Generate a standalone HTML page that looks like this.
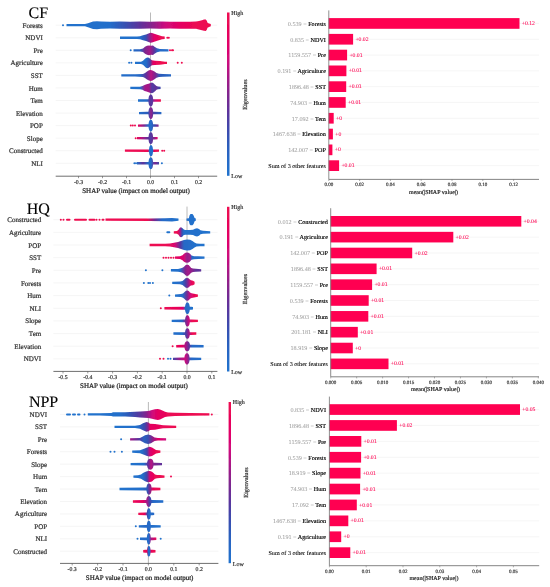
<!DOCTYPE html>
<html><head><meta charset="utf-8"><style>html,body{margin:0;padding:0;background:#fff;width:550px;height:587px;overflow:hidden}svg{display:block}</style></head>
<body><svg width="550" height="587" viewBox="0 0 550 587" font-family="'Liberation Serif', serif" text-rendering="geometricPrecision">
<defs><linearGradient id="g1" gradientUnits="userSpaceOnUse" x1="66.00" y1="0" x2="210.00" y2="0"><stop offset="0.0000" stop-color="#2373cd"/><stop offset="0.3056" stop-color="#246eca"/><stop offset="0.4097" stop-color="#3750b2"/><stop offset="0.5139" stop-color="#5f329b"/><stop offset="0.5833" stop-color="#80268e"/><stop offset="0.6875" stop-color="#cd0a7d"/><stop offset="0.7917" stop-color="#e40361"/><stop offset="0.8958" stop-color="#eb0854"/><stop offset="1.0000" stop-color="#ee0c50"/></linearGradient><linearGradient id="g2" gradientUnits="userSpaceOnUse" x1="120.00" y1="0" x2="165.00" y2="0"><stop offset="0.0000" stop-color="#2373cd"/><stop offset="0.4444" stop-color="#246eca"/><stop offset="0.5778" stop-color="#3750b2"/><stop offset="0.6667" stop-color="#931f8a"/><stop offset="0.7556" stop-color="#e10269"/><stop offset="0.8889" stop-color="#eb0854"/><stop offset="1.0000" stop-color="#ee0c50"/></linearGradient><linearGradient id="g3" gradientUnits="userSpaceOnUse" x1="133.00" y1="0" x2="168.00" y2="0"><stop offset="0.0000" stop-color="#2669c6"/><stop offset="0.2000" stop-color="#2a62c0"/><stop offset="0.3429" stop-color="#80268e"/><stop offset="0.4857" stop-color="#a51987"/><stop offset="0.6000" stop-color="#5f329b"/><stop offset="0.7143" stop-color="#2669c6"/><stop offset="1.0000" stop-color="#246eca"/></linearGradient><linearGradient id="g4" gradientUnits="userSpaceOnUse" x1="135.00" y1="0" x2="167.00" y2="0"><stop offset="0.0000" stop-color="#2373cd"/><stop offset="0.3438" stop-color="#246eca"/><stop offset="0.4688" stop-color="#4146aa"/><stop offset="0.5625" stop-color="#e40361"/><stop offset="0.7812" stop-color="#ee0c50"/><stop offset="1.0000" stop-color="#ee0c50"/></linearGradient><linearGradient id="g5" gradientUnits="userSpaceOnUse" x1="121.00" y1="0" x2="171.00" y2="0"><stop offset="0.0000" stop-color="#246eca"/><stop offset="0.3800" stop-color="#2669c6"/><stop offset="0.5000" stop-color="#5f329b"/><stop offset="0.6000" stop-color="#b91182"/><stop offset="0.6800" stop-color="#80268e"/><stop offset="0.7800" stop-color="#2d5ab9"/><stop offset="1.0000" stop-color="#2669c6"/></linearGradient><linearGradient id="g6" gradientUnits="userSpaceOnUse" x1="130.00" y1="0" x2="160.00" y2="0"><stop offset="0.0000" stop-color="#2373cd"/><stop offset="0.3333" stop-color="#246eca"/><stop offset="0.5000" stop-color="#a51987"/><stop offset="0.6333" stop-color="#a51987"/><stop offset="0.7333" stop-color="#503ca2"/><stop offset="0.8667" stop-color="#5f329b"/><stop offset="1.0000" stop-color="#4146aa"/></linearGradient><linearGradient id="g7" gradientUnits="userSpaceOnUse" x1="138.00" y1="0" x2="160.00" y2="0"><stop offset="0.0000" stop-color="#2373cd"/><stop offset="0.4091" stop-color="#2669c6"/><stop offset="0.5455" stop-color="#5f329b"/><stop offset="0.6364" stop-color="#503ca2"/><stop offset="0.7727" stop-color="#cd0a7d"/><stop offset="1.0000" stop-color="#ee0c50"/></linearGradient><linearGradient id="g8" gradientUnits="userSpaceOnUse" x1="139.00" y1="0" x2="161.00" y2="0"><stop offset="0.0000" stop-color="#246eca"/><stop offset="0.4091" stop-color="#2d5ab9"/><stop offset="0.5455" stop-color="#931f8a"/><stop offset="0.6818" stop-color="#4146aa"/><stop offset="1.0000" stop-color="#2669c6"/></linearGradient><linearGradient id="g9" gradientUnits="userSpaceOnUse" x1="138.00" y1="0" x2="158.00" y2="0"><stop offset="0.0000" stop-color="#e40361"/><stop offset="0.3000" stop-color="#80268e"/><stop offset="0.5000" stop-color="#2669c6"/><stop offset="0.6500" stop-color="#246eca"/><stop offset="0.8500" stop-color="#4146aa"/><stop offset="1.0000" stop-color="#80268e"/></linearGradient><linearGradient id="g10" gradientUnits="userSpaceOnUse" x1="137.00" y1="0" x2="157.00" y2="0"><stop offset="0.0000" stop-color="#e80558"/><stop offset="0.3000" stop-color="#a51987"/><stop offset="0.5500" stop-color="#5f329b"/><stop offset="0.7000" stop-color="#503ca2"/><stop offset="0.8500" stop-color="#80268e"/><stop offset="1.0000" stop-color="#e10269"/></linearGradient><linearGradient id="g11" gradientUnits="userSpaceOnUse" x1="124.00" y1="0" x2="159.00" y2="0"><stop offset="0.0000" stop-color="#ee0c50"/><stop offset="0.6857" stop-color="#eb0854"/><stop offset="0.7286" stop-color="#246eca"/><stop offset="0.8143" stop-color="#246eca"/><stop offset="0.8571" stop-color="#e80558"/><stop offset="1.0000" stop-color="#ee0c50"/></linearGradient><linearGradient id="g12" gradientUnits="userSpaceOnUse" x1="137.00" y1="0" x2="159.00" y2="0"><stop offset="0.0000" stop-color="#2669c6"/><stop offset="0.2727" stop-color="#5f329b"/><stop offset="0.5000" stop-color="#2669c6"/><stop offset="0.6364" stop-color="#246eca"/><stop offset="0.8182" stop-color="#80268e"/><stop offset="1.0000" stop-color="#4146aa"/></linearGradient><linearGradient id="cb13" x1="0" y1="0" x2="0" y2="1"><stop offset="0.000" stop-color="#ee0c50"/><stop offset="0.050" stop-color="#eb0854"/><stop offset="0.100" stop-color="#e80558"/><stop offset="0.150" stop-color="#e40361"/><stop offset="0.200" stop-color="#e10269"/><stop offset="0.250" stop-color="#d70673"/><stop offset="0.300" stop-color="#cd0a7d"/><stop offset="0.350" stop-color="#b91182"/><stop offset="0.400" stop-color="#a51987"/><stop offset="0.450" stop-color="#931f8a"/><stop offset="0.500" stop-color="#80268e"/><stop offset="0.550" stop-color="#6f2c94"/><stop offset="0.600" stop-color="#5f329b"/><stop offset="0.650" stop-color="#503ca2"/><stop offset="0.700" stop-color="#4146aa"/><stop offset="0.750" stop-color="#3750b2"/><stop offset="0.800" stop-color="#2d5ab9"/><stop offset="0.850" stop-color="#2a62c0"/><stop offset="0.900" stop-color="#2669c6"/><stop offset="0.950" stop-color="#246eca"/><stop offset="1.000" stop-color="#2373cd"/></linearGradient><linearGradient id="g14" gradientUnits="userSpaceOnUse" x1="105.00" y1="0" x2="178.00" y2="0"><stop offset="0.0000" stop-color="#ee0c50"/><stop offset="0.5753" stop-color="#ee0c50"/><stop offset="0.6849" stop-color="#702c94"/><stop offset="0.7808" stop-color="#2669c6"/><stop offset="1.0000" stop-color="#2373cd"/></linearGradient><linearGradient id="g15" gradientUnits="userSpaceOnUse" x1="186.00" y1="0" x2="196.00" y2="0"><stop offset="0.0000" stop-color="#2471cc"/><stop offset="1.0000" stop-color="#2471cc"/></linearGradient><linearGradient id="g16" gradientUnits="userSpaceOnUse" x1="174.00" y1="0" x2="210.00" y2="0"><stop offset="0.0000" stop-color="#ee0c50"/><stop offset="0.1111" stop-color="#eb0854"/><stop offset="0.1667" stop-color="#a51987"/><stop offset="0.2222" stop-color="#3750b2"/><stop offset="0.2778" stop-color="#246eca"/><stop offset="1.0000" stop-color="#2373cd"/></linearGradient><linearGradient id="g17" gradientUnits="userSpaceOnUse" x1="149.00" y1="0" x2="204.00" y2="0"><stop offset="0.0000" stop-color="#ee0c50"/><stop offset="0.3455" stop-color="#eb0854"/><stop offset="0.4727" stop-color="#d70673"/><stop offset="0.5636" stop-color="#5f329b"/><stop offset="0.6364" stop-color="#2669c6"/><stop offset="0.8364" stop-color="#2470cb"/><stop offset="1.0000" stop-color="#2373cd"/></linearGradient><linearGradient id="g18" gradientUnits="userSpaceOnUse" x1="163.00" y1="0" x2="204.00" y2="0"><stop offset="0.0000" stop-color="#ee0c50"/><stop offset="0.3659" stop-color="#e40361"/><stop offset="0.5122" stop-color="#d70673"/><stop offset="0.5854" stop-color="#931f8a"/><stop offset="0.6585" stop-color="#a51987"/><stop offset="0.7073" stop-color="#2669c6"/><stop offset="1.0000" stop-color="#2373cd"/></linearGradient><linearGradient id="g19" gradientUnits="userSpaceOnUse" x1="170.00" y1="0" x2="201.00" y2="0"><stop offset="0.0000" stop-color="#2373cd"/><stop offset="0.3226" stop-color="#246eca"/><stop offset="0.4839" stop-color="#80268e"/><stop offset="0.5806" stop-color="#a51987"/><stop offset="0.6774" stop-color="#931f8a"/><stop offset="0.8387" stop-color="#5f329b"/><stop offset="1.0000" stop-color="#5f329b"/></linearGradient><linearGradient id="g20" gradientUnits="userSpaceOnUse" x1="172.00" y1="0" x2="194.60" y2="0"><stop offset="0.0000" stop-color="#2373cd"/><stop offset="0.4425" stop-color="#2669c6"/><stop offset="0.6195" stop-color="#503ca2"/><stop offset="0.7522" stop-color="#a51987"/><stop offset="0.8407" stop-color="#e40361"/><stop offset="1.0000" stop-color="#ee0c50"/></linearGradient><linearGradient id="g21" gradientUnits="userSpaceOnUse" x1="175.00" y1="0" x2="198.00" y2="0"><stop offset="0.0000" stop-color="#2373cd"/><stop offset="0.3478" stop-color="#2669c6"/><stop offset="0.5217" stop-color="#702c94"/><stop offset="0.6522" stop-color="#cd0a7d"/><stop offset="0.8261" stop-color="#e80558"/><stop offset="1.0000" stop-color="#ee0c50"/></linearGradient><linearGradient id="g22" gradientUnits="userSpaceOnUse" x1="164.00" y1="0" x2="193.00" y2="0"><stop offset="0.0000" stop-color="#eb0854"/><stop offset="0.4828" stop-color="#e80558"/><stop offset="0.6552" stop-color="#d70673"/><stop offset="0.7414" stop-color="#2669c6"/><stop offset="1.0000" stop-color="#2373cd"/></linearGradient><linearGradient id="g23" gradientUnits="userSpaceOnUse" x1="171.00" y1="0" x2="198.00" y2="0"><stop offset="0.0000" stop-color="#2373cd"/><stop offset="0.4074" stop-color="#2669c6"/><stop offset="0.5556" stop-color="#80268e"/><stop offset="0.6667" stop-color="#cd0a7d"/><stop offset="0.7778" stop-color="#eb0854"/><stop offset="1.0000" stop-color="#ee0c50"/></linearGradient><linearGradient id="g24" gradientUnits="userSpaceOnUse" x1="173.00" y1="0" x2="196.00" y2="0"><stop offset="0.0000" stop-color="#246eca"/><stop offset="0.3913" stop-color="#246eca"/><stop offset="0.5652" stop-color="#503ca2"/><stop offset="0.6957" stop-color="#a51987"/><stop offset="0.8261" stop-color="#eb0854"/><stop offset="1.0000" stop-color="#ee0c50"/></linearGradient><linearGradient id="g25" gradientUnits="userSpaceOnUse" x1="176.00" y1="0" x2="204.00" y2="0"><stop offset="0.0000" stop-color="#eb0854"/><stop offset="0.2143" stop-color="#e40361"/><stop offset="0.3571" stop-color="#a51987"/><stop offset="0.4643" stop-color="#5f329b"/><stop offset="0.5714" stop-color="#2669c6"/><stop offset="1.0000" stop-color="#246eca"/></linearGradient><linearGradient id="g26" gradientUnits="userSpaceOnUse" x1="173.00" y1="0" x2="201.00" y2="0"><stop offset="0.0000" stop-color="#4146aa"/><stop offset="0.2500" stop-color="#a51987"/><stop offset="0.4286" stop-color="#cd0a7d"/><stop offset="0.5357" stop-color="#931f8a"/><stop offset="0.6429" stop-color="#2669c6"/><stop offset="1.0000" stop-color="#246eca"/></linearGradient><linearGradient id="cb27" x1="0" y1="0" x2="0" y2="1"><stop offset="0.000" stop-color="#ee0c50"/><stop offset="0.050" stop-color="#eb0854"/><stop offset="0.100" stop-color="#e80558"/><stop offset="0.150" stop-color="#e40361"/><stop offset="0.200" stop-color="#e10269"/><stop offset="0.250" stop-color="#d70673"/><stop offset="0.300" stop-color="#cd0a7d"/><stop offset="0.350" stop-color="#b91182"/><stop offset="0.400" stop-color="#a51987"/><stop offset="0.450" stop-color="#931f8a"/><stop offset="0.500" stop-color="#80268e"/><stop offset="0.550" stop-color="#6f2c94"/><stop offset="0.600" stop-color="#5f329b"/><stop offset="0.650" stop-color="#503ca2"/><stop offset="0.700" stop-color="#4146aa"/><stop offset="0.750" stop-color="#3750b2"/><stop offset="0.800" stop-color="#2d5ab9"/><stop offset="0.850" stop-color="#2a62c0"/><stop offset="0.900" stop-color="#2669c6"/><stop offset="0.950" stop-color="#246eca"/><stop offset="1.000" stop-color="#2373cd"/></linearGradient><linearGradient id="g28" gradientUnits="userSpaceOnUse" x1="88.00" y1="0" x2="210.00" y2="0"><stop offset="0.0000" stop-color="#2373cd"/><stop offset="0.2623" stop-color="#246eca"/><stop offset="0.3279" stop-color="#2d5ab9"/><stop offset="0.4098" stop-color="#503ca2"/><stop offset="0.4754" stop-color="#80268e"/><stop offset="0.5246" stop-color="#cd0a7d"/><stop offset="0.5738" stop-color="#e40361"/><stop offset="0.6721" stop-color="#eb0854"/><stop offset="1.0000" stop-color="#ee0c50"/></linearGradient><linearGradient id="g29" gradientUnits="userSpaceOnUse" x1="114.00" y1="0" x2="176.00" y2="0"><stop offset="0.0000" stop-color="#2373cd"/><stop offset="0.3871" stop-color="#246eca"/><stop offset="0.5000" stop-color="#4146aa"/><stop offset="0.5484" stop-color="#80268e"/><stop offset="0.5806" stop-color="#e40361"/><stop offset="1.0000" stop-color="#ee0c50"/></linearGradient><linearGradient id="g30" gradientUnits="userSpaceOnUse" x1="130.00" y1="0" x2="166.00" y2="0"><stop offset="0.0000" stop-color="#a51987"/><stop offset="0.2222" stop-color="#5f329b"/><stop offset="0.3889" stop-color="#2a62c0"/><stop offset="0.5000" stop-color="#3750b2"/><stop offset="0.6111" stop-color="#80268e"/><stop offset="0.7778" stop-color="#e10269"/><stop offset="1.0000" stop-color="#cd0a7d"/></linearGradient><linearGradient id="g31" gradientUnits="userSpaceOnUse" x1="132.00" y1="0" x2="160.00" y2="0"><stop offset="0.0000" stop-color="#2373cd"/><stop offset="0.3571" stop-color="#246eca"/><stop offset="0.5357" stop-color="#4146aa"/><stop offset="0.6429" stop-color="#d70673"/><stop offset="0.7857" stop-color="#e80558"/><stop offset="1.0000" stop-color="#ee0c50"/></linearGradient><linearGradient id="g32" gradientUnits="userSpaceOnUse" x1="130.00" y1="0" x2="162.00" y2="0"><stop offset="0.0000" stop-color="#2373cd"/><stop offset="0.4375" stop-color="#246eca"/><stop offset="0.5625" stop-color="#5f329b"/><stop offset="0.6562" stop-color="#b91182"/><stop offset="0.7500" stop-color="#80268e"/><stop offset="1.0000" stop-color="#5f329b"/></linearGradient><linearGradient id="g33" gradientUnits="userSpaceOnUse" x1="133.00" y1="0" x2="165.00" y2="0"><stop offset="0.0000" stop-color="#2373cd"/><stop offset="0.3125" stop-color="#246eca"/><stop offset="0.4375" stop-color="#4146aa"/><stop offset="0.5312" stop-color="#e10269"/><stop offset="0.6875" stop-color="#eb0854"/><stop offset="1.0000" stop-color="#ee0c50"/></linearGradient><linearGradient id="g34" gradientUnits="userSpaceOnUse" x1="119.00" y1="0" x2="160.00" y2="0"><stop offset="0.0000" stop-color="#2373cd"/><stop offset="0.5610" stop-color="#246eca"/><stop offset="0.6829" stop-color="#2d5ab9"/><stop offset="0.7561" stop-color="#80268e"/><stop offset="0.8293" stop-color="#e80558"/><stop offset="1.0000" stop-color="#ee0c50"/></linearGradient><linearGradient id="g35" gradientUnits="userSpaceOnUse" x1="133.00" y1="0" x2="163.00" y2="0"><stop offset="0.0000" stop-color="#eb0854"/><stop offset="0.3333" stop-color="#e40361"/><stop offset="0.4667" stop-color="#a51987"/><stop offset="0.5667" stop-color="#4146aa"/><stop offset="0.6667" stop-color="#2669c6"/><stop offset="1.0000" stop-color="#246eca"/></linearGradient><linearGradient id="g36" gradientUnits="userSpaceOnUse" x1="138.00" y1="0" x2="154.00" y2="0"><stop offset="0.0000" stop-color="#ee0c50"/><stop offset="0.4375" stop-color="#e80558"/><stop offset="0.5625" stop-color="#4146aa"/><stop offset="0.6875" stop-color="#246eca"/><stop offset="1.0000" stop-color="#2669c6"/></linearGradient><linearGradient id="g37" gradientUnits="userSpaceOnUse" x1="138.00" y1="0" x2="160.00" y2="0"><stop offset="0.0000" stop-color="#246eca"/><stop offset="0.4091" stop-color="#2669c6"/><stop offset="0.5000" stop-color="#2669c6"/><stop offset="0.6364" stop-color="#246eca"/><stop offset="1.0000" stop-color="#2373cd"/></linearGradient><linearGradient id="g38" gradientUnits="userSpaceOnUse" x1="140.00" y1="0" x2="156.00" y2="0"><stop offset="0.0000" stop-color="#246eca"/><stop offset="0.4375" stop-color="#2669c6"/><stop offset="0.5625" stop-color="#246eca"/><stop offset="0.6875" stop-color="#a51987"/><stop offset="1.0000" stop-color="#e80558"/></linearGradient><linearGradient id="g39" gradientUnits="userSpaceOnUse" x1="143.00" y1="0" x2="155.50" y2="0"><stop offset="0.0000" stop-color="#ee0c50"/><stop offset="0.3200" stop-color="#e80558"/><stop offset="0.4000" stop-color="#2669c6"/><stop offset="0.5600" stop-color="#2669c6"/><stop offset="0.6400" stop-color="#e80558"/><stop offset="1.0000" stop-color="#ee0c50"/></linearGradient><linearGradient id="cb40" x1="0" y1="0" x2="0" y2="1"><stop offset="0.000" stop-color="#ee0c50"/><stop offset="0.050" stop-color="#eb0854"/><stop offset="0.100" stop-color="#e80558"/><stop offset="0.150" stop-color="#e40361"/><stop offset="0.200" stop-color="#e10269"/><stop offset="0.250" stop-color="#d70673"/><stop offset="0.300" stop-color="#cd0a7d"/><stop offset="0.350" stop-color="#b91182"/><stop offset="0.400" stop-color="#a51987"/><stop offset="0.450" stop-color="#931f8a"/><stop offset="0.500" stop-color="#80268e"/><stop offset="0.550" stop-color="#6f2c94"/><stop offset="0.600" stop-color="#5f329b"/><stop offset="0.650" stop-color="#503ca2"/><stop offset="0.700" stop-color="#4146aa"/><stop offset="0.750" stop-color="#3750b2"/><stop offset="0.800" stop-color="#2d5ab9"/><stop offset="0.850" stop-color="#2a62c0"/><stop offset="0.900" stop-color="#2669c6"/><stop offset="0.950" stop-color="#246eca"/><stop offset="1.000" stop-color="#2373cd"/></linearGradient></defs>
<filter id="bl" x="0" y="0" width="550" height="587" filterUnits="userSpaceOnUse"><feGaussianBlur stdDeviation="0.3"/></filter>
<rect width="550" height="587" fill="#fff"/>
<g filter="url(#bl)">
<text x="28.60" y="18.00" font-size="16" fill="#000" stroke="#000" stroke-width="0.120" text-anchor="start" >CF</text>
<line x1="55.70" y1="25.20" x2="217.20" y2="25.20" stroke="#f0f0f0" stroke-width="0.7" />
<line x1="55.70" y1="37.75" x2="217.20" y2="37.75" stroke="#f0f0f0" stroke-width="0.7" />
<line x1="55.70" y1="50.30" x2="217.20" y2="50.30" stroke="#f0f0f0" stroke-width="0.7" />
<line x1="55.70" y1="62.85" x2="217.20" y2="62.85" stroke="#f0f0f0" stroke-width="0.7" />
<line x1="55.70" y1="75.40" x2="217.20" y2="75.40" stroke="#f0f0f0" stroke-width="0.7" />
<line x1="55.70" y1="87.95" x2="217.20" y2="87.95" stroke="#f0f0f0" stroke-width="0.7" />
<line x1="55.70" y1="100.50" x2="217.20" y2="100.50" stroke="#f0f0f0" stroke-width="0.7" />
<line x1="55.70" y1="113.05" x2="217.20" y2="113.05" stroke="#f0f0f0" stroke-width="0.7" />
<line x1="55.70" y1="125.60" x2="217.20" y2="125.60" stroke="#f0f0f0" stroke-width="0.7" />
<line x1="55.70" y1="138.15" x2="217.20" y2="138.15" stroke="#f0f0f0" stroke-width="0.7" />
<line x1="55.70" y1="150.70" x2="217.20" y2="150.70" stroke="#f0f0f0" stroke-width="0.7" />
<line x1="55.70" y1="163.25" x2="217.20" y2="163.25" stroke="#f0f0f0" stroke-width="0.7" />
<line x1="150.50" y1="12.50" x2="150.50" y2="176.20" stroke="#a8a8a8" stroke-width="0.8" />
<text x="42.80" y="27.75" font-size="7" fill="#333" stroke="#333" stroke-width="0.220" text-anchor="end" >Forests</text>
<text x="42.80" y="40.30" font-size="7" fill="#333" stroke="#333" stroke-width="0.220" text-anchor="end" >NDVI</text>
<text x="42.80" y="52.85" font-size="7" fill="#333" stroke="#333" stroke-width="0.220" text-anchor="end" >Pre</text>
<text x="42.80" y="65.40" font-size="7" fill="#333" stroke="#333" stroke-width="0.220" text-anchor="end" >Agriculture</text>
<text x="42.80" y="77.95" font-size="7" fill="#333" stroke="#333" stroke-width="0.220" text-anchor="end" >SST</text>
<text x="42.80" y="90.50" font-size="7" fill="#333" stroke="#333" stroke-width="0.220" text-anchor="end" >Hum</text>
<text x="42.80" y="103.05" font-size="7" fill="#333" stroke="#333" stroke-width="0.220" text-anchor="end" >Tem</text>
<text x="42.80" y="115.60" font-size="7" fill="#333" stroke="#333" stroke-width="0.220" text-anchor="end" >Elevation</text>
<text x="42.80" y="128.15" font-size="7" fill="#333" stroke="#333" stroke-width="0.220" text-anchor="end" >POP</text>
<text x="42.80" y="140.70" font-size="7" fill="#333" stroke="#333" stroke-width="0.220" text-anchor="end" >Slope</text>
<text x="42.80" y="153.25" font-size="7" fill="#333" stroke="#333" stroke-width="0.220" text-anchor="end" >Constructed</text>
<text x="42.80" y="165.80" font-size="7" fill="#333" stroke="#333" stroke-width="0.220" text-anchor="end" >NLI</text>
<circle cx="63.00" cy="25.20" r="1.0" fill="#2373cd"/>
<polygon points="66.50,24.05 85.00,24.05 88.00,23.20 93.00,21.40 97.00,21.20 101.00,21.60 110.00,21.80 120.00,21.60 130.00,21.70 140.00,21.60 150.00,21.80 160.00,21.60 170.00,21.80 180.00,21.70 190.00,21.70 196.00,21.60 199.00,21.00 202.00,20.20 204.00,19.60 205.80,19.40 206.80,20.70 207.50,22.70 209.00,23.40 210.80,24.05 210.80,26.35 209.00,27.00 207.50,27.70 206.80,29.70 205.80,31.00 204.00,30.80 202.00,30.20 199.00,29.40 196.00,28.80 190.00,28.70 180.00,28.70 170.00,28.60 160.00,28.80 150.00,28.60 140.00,28.80 130.00,28.70 120.00,28.80 110.00,28.60 101.00,28.80 97.00,29.20 93.00,29.00 88.00,27.20 85.00,26.35 66.50,26.35" fill="url(#g1)"/>
<polygon points="120.00,36.60 137.00,36.60 140.00,36.25 143.00,35.25 146.00,34.45 148.50,33.55 150.50,32.75 152.00,32.95 155.00,33.95 158.00,34.95 162.00,36.25 164.70,36.60 164.70,38.90 162.00,39.25 158.00,40.55 155.00,41.55 152.00,42.55 150.50,42.75 148.50,41.95 146.00,41.05 143.00,40.25 140.00,39.25 137.00,38.90 120.00,38.90" fill="url(#g2)"/>
<circle cx="167.30" cy="37.75" r="1.0" fill="#ee0c50"/>
<circle cx="168.80" cy="37.75" r="1.0" fill="#ee0c50"/>
<circle cx="130.70" cy="50.30" r="1.0" fill="#2373cd"/>
<polygon points="133.50,49.15 140.00,49.15 143.00,48.50 145.00,46.80 147.00,45.80 149.00,45.40 151.00,45.80 153.00,45.50 154.50,46.80 157.00,48.30 160.00,49.10 168.50,49.15 168.50,51.45 160.00,51.50 157.00,52.30 154.50,53.80 153.00,55.10 151.00,54.80 149.00,55.20 147.00,54.80 145.00,53.80 143.00,52.10 140.00,51.45 133.50,51.45" fill="url(#g3)"/>
<circle cx="170.00" cy="50.30" r="1.0" fill="#ee0c50"/>
<circle cx="172.00" cy="50.30" r="1.0" fill="#ee0c50"/>
<circle cx="173.00" cy="50.30" r="1.0" fill="#ee0c50"/>
<circle cx="129.10" cy="62.85" r="1.0" fill="#2373cd"/>
<circle cx="131.40" cy="62.85" r="1.0" fill="#2373cd"/>
<polygon points="135.00,61.70 141.00,61.65 143.00,60.85 144.50,59.35 146.00,58.05 147.50,57.45 149.00,57.85 150.50,59.35 152.00,60.35 155.00,60.75 160.00,61.05 165.00,61.65 167.00,61.70 167.00,64.00 165.00,64.05 160.00,64.65 155.00,64.95 152.00,65.35 150.50,66.35 149.00,67.85 147.50,68.25 146.00,67.65 144.50,66.35 143.00,64.85 141.00,64.05 135.00,64.00" fill="url(#g4)"/>
<circle cx="177.70" cy="62.85" r="1.0" fill="#ee0c50"/>
<circle cx="181.80" cy="62.85" r="1.0" fill="#ee0c50"/>
<polygon points="121.30,74.25 135.00,74.20 143.00,73.90 145.00,72.90 147.00,71.40 149.00,70.30 150.70,69.90 152.50,70.40 154.50,71.60 156.50,73.00 159.00,73.70 163.00,74.10 171.00,74.25 171.00,76.55 163.00,76.70 159.00,77.10 156.50,77.80 154.50,79.20 152.50,80.40 150.70,80.90 149.00,80.50 147.00,79.40 145.00,77.90 143.00,76.90 135.00,76.60 121.30,76.55" fill="url(#g5)"/>
<polygon points="130.30,86.80 140.00,86.65 142.50,86.05 144.50,84.95 146.50,84.35 148.50,83.75 150.50,82.95 152.00,82.55 153.50,83.35 155.00,84.75 156.50,86.05 158.00,86.55 160.60,86.80 160.60,89.10 158.00,89.35 156.50,89.85 155.00,91.15 153.50,92.55 152.00,93.35 150.50,92.95 148.50,92.15 146.50,91.55 144.50,90.95 142.50,89.85 140.00,89.25 130.30,89.10" fill="url(#g6)"/>
<polygon points="138.00,99.35 146.90,99.25 148.40,99.25 148.80,96.77 149.20,95.76 149.60,95.15 150.00,94.78 150.40,94.57 150.80,94.50 151.20,94.57 151.60,94.78 152.00,95.15 152.40,95.76 152.80,96.77 153.20,99.25 154.70,99.25 160.90,99.35 160.90,101.65 154.70,101.75 153.20,101.75 152.80,104.23 152.40,105.24 152.00,105.85 151.60,106.22 151.20,106.43 150.80,106.50 150.40,106.43 150.00,106.22 149.60,105.85 149.20,105.24 148.80,104.23 148.40,101.75 146.90,101.75 138.00,101.65" fill="url(#g7)"/>
<polygon points="139.00,111.90 146.90,111.80 148.40,111.80 148.80,109.38 149.20,108.39 149.60,107.79 150.00,107.42 150.40,107.22 150.80,107.15 151.20,107.22 151.60,107.42 152.00,107.79 152.40,108.39 152.80,109.38 153.20,111.80 154.70,111.80 161.40,111.90 161.40,114.20 154.70,114.30 153.20,114.30 152.80,116.72 152.40,117.71 152.00,118.31 151.60,118.68 151.20,118.88 150.80,118.95 150.40,118.88 150.00,118.68 149.60,118.31 149.20,117.71 148.80,116.72 148.40,114.30 146.90,114.30 139.00,114.20" fill="url(#g8)"/>
<circle cx="130.80" cy="125.60" r="1.0" fill="#ee0c50"/>
<circle cx="132.80" cy="125.60" r="1.0" fill="#ee0c50"/>
<circle cx="135.00" cy="125.60" r="1.0" fill="#ee0c50"/>
<polygon points="138.00,124.45 147.00,124.35 148.50,124.35 148.88,121.93 149.27,120.94 149.65,120.34 150.03,119.97 150.42,119.77 150.80,119.70 151.18,119.77 151.57,119.97 151.95,120.34 152.33,120.94 152.72,121.93 153.10,124.35 154.60,124.35 158.60,124.45 158.60,126.75 154.60,126.85 153.10,126.85 152.72,129.27 152.33,130.26 151.95,130.86 151.57,131.23 151.18,131.43 150.80,131.50 150.42,131.43 150.03,131.23 149.65,130.86 149.27,130.26 148.88,129.27 148.50,126.85 147.00,126.85 138.00,126.75" fill="url(#g9)"/>
<circle cx="135.70" cy="138.15" r="1.0" fill="#ee0c50"/>
<polygon points="137.00,137.00 147.00,136.90 148.50,136.90 148.88,134.42 149.27,133.41 149.65,132.80 150.03,132.43 150.42,132.22 150.80,132.15 151.18,132.22 151.57,132.43 151.95,132.80 152.33,133.41 152.72,134.42 153.10,136.90 154.60,136.90 157.60,137.00 157.60,139.30 154.60,139.40 153.10,139.40 152.72,141.88 152.33,142.89 151.95,143.50 151.57,143.87 151.18,144.08 150.80,144.15 150.42,144.08 150.03,143.87 149.65,143.50 149.27,142.89 148.88,141.88 148.50,139.40 147.00,139.40 137.00,139.30" fill="url(#g10)"/>
<polygon points="124.90,149.55 147.50,149.45 149.00,149.45 149.33,147.21 149.67,146.27 150.00,145.71 150.33,145.36 150.67,145.16 151.00,145.10 151.33,145.16 151.67,145.36 152.00,145.71 152.33,146.27 152.67,147.21 153.00,149.45 154.50,149.45 159.00,149.55 159.00,151.85 154.50,151.95 153.00,151.95 152.67,154.19 152.33,155.13 152.00,155.69 151.67,156.04 151.33,156.24 151.00,156.30 150.67,156.24 150.33,156.04 150.00,155.69 149.67,155.13 149.33,154.19 149.00,151.95 147.50,151.95 124.90,151.85" fill="url(#g11)"/>
<circle cx="162.20" cy="150.70" r="1.0" fill="#ee0c50"/>
<circle cx="164.20" cy="150.70" r="1.0" fill="#ee0c50"/>
<circle cx="134.40" cy="163.25" r="1.0" fill="#2373cd"/>
<circle cx="136.00" cy="163.25" r="1.0" fill="#2373cd"/>
<polygon points="137.00,162.10 147.00,162.00 148.50,162.00 148.88,159.58 149.27,158.59 149.65,157.99 150.03,157.62 150.42,157.42 150.80,157.35 151.18,157.42 151.57,157.62 151.95,157.99 152.33,158.59 152.72,159.58 153.10,162.00 154.60,162.00 159.00,162.10 159.00,164.40 154.60,164.50 153.10,164.50 152.72,166.92 152.33,167.91 151.95,168.51 151.57,168.88 151.18,169.08 150.80,169.15 150.42,169.08 150.03,168.88 149.65,168.51 149.27,167.91 148.88,166.92 148.50,164.50 147.00,164.50 137.00,164.40" fill="url(#g12)"/>
<circle cx="161.90" cy="163.25" r="1.0" fill="#2373cd"/>
<line x1="55.70" y1="176.20" x2="217.20" y2="176.20" stroke="#555" stroke-width="0.85" />
<line x1="78.50" y1="176.20" x2="78.50" y2="178.20" stroke="#555" stroke-width="0.6" />
<text x="78.50" y="184.10" font-size="5.8" fill="#333" stroke="#333" stroke-width="0.182" text-anchor="middle" >-0.3</text>
<line x1="102.50" y1="176.20" x2="102.50" y2="178.20" stroke="#555" stroke-width="0.6" />
<text x="102.50" y="184.10" font-size="5.8" fill="#333" stroke="#333" stroke-width="0.182" text-anchor="middle" >-0.2</text>
<line x1="126.50" y1="176.20" x2="126.50" y2="178.20" stroke="#555" stroke-width="0.6" />
<text x="126.50" y="184.10" font-size="5.8" fill="#333" stroke="#333" stroke-width="0.182" text-anchor="middle" >-0.1</text>
<line x1="150.50" y1="176.20" x2="150.50" y2="178.20" stroke="#555" stroke-width="0.6" />
<text x="150.50" y="184.10" font-size="5.8" fill="#333" stroke="#333" stroke-width="0.182" text-anchor="middle" >0.0</text>
<line x1="174.50" y1="176.20" x2="174.50" y2="178.20" stroke="#555" stroke-width="0.6" />
<text x="174.50" y="184.10" font-size="5.8" fill="#333" stroke="#333" stroke-width="0.182" text-anchor="middle" >0.1</text>
<line x1="198.50" y1="176.20" x2="198.50" y2="178.20" stroke="#555" stroke-width="0.6" />
<text x="198.50" y="184.10" font-size="5.8" fill="#333" stroke="#333" stroke-width="0.182" text-anchor="middle" >0.2</text>
<text x="82.20" y="192.60" font-size="7" fill="#222" stroke="#222" stroke-width="0.220" text-anchor="start" >SHAP value (impact on model output)</text>
<rect x="227.00" y="12.50" width="2.50" height="163.30" fill="url(#cb13)" />
<text x="231.30" y="15.00" font-size="6" fill="#333" stroke="#333" stroke-width="0.189" text-anchor="start" >High</text>
<text x="231.30" y="178.40" font-size="6" fill="#333" stroke="#333" stroke-width="0.189" text-anchor="start" >Low</text>
<text transform="translate(246.60,94.50) rotate(-90)" x="0" y="0" font-size="6.2" fill="#333" stroke="#333" stroke-width="0.198" text-anchor="middle">Eigenvalues</text>
<text x="26.70" y="213.80" font-size="16" fill="#000" stroke="#000" stroke-width="0.120" text-anchor="start" >HQ</text>
<line x1="53.40" y1="219.70" x2="217.40" y2="219.70" stroke="#f0f0f0" stroke-width="0.7" />
<line x1="53.40" y1="232.35" x2="217.40" y2="232.35" stroke="#f0f0f0" stroke-width="0.7" />
<line x1="53.40" y1="245.00" x2="217.40" y2="245.00" stroke="#f0f0f0" stroke-width="0.7" />
<line x1="53.40" y1="257.65" x2="217.40" y2="257.65" stroke="#f0f0f0" stroke-width="0.7" />
<line x1="53.40" y1="270.30" x2="217.40" y2="270.30" stroke="#f0f0f0" stroke-width="0.7" />
<line x1="53.40" y1="282.95" x2="217.40" y2="282.95" stroke="#f0f0f0" stroke-width="0.7" />
<line x1="53.40" y1="295.60" x2="217.40" y2="295.60" stroke="#f0f0f0" stroke-width="0.7" />
<line x1="53.40" y1="308.25" x2="217.40" y2="308.25" stroke="#f0f0f0" stroke-width="0.7" />
<line x1="53.40" y1="320.90" x2="217.40" y2="320.90" stroke="#f0f0f0" stroke-width="0.7" />
<line x1="53.40" y1="333.55" x2="217.40" y2="333.55" stroke="#f0f0f0" stroke-width="0.7" />
<line x1="53.40" y1="346.20" x2="217.40" y2="346.20" stroke="#f0f0f0" stroke-width="0.7" />
<line x1="53.40" y1="358.85" x2="217.40" y2="358.85" stroke="#f0f0f0" stroke-width="0.7" />
<line x1="187.00" y1="206.60" x2="187.00" y2="371.40" stroke="#a8a8a8" stroke-width="0.8" />
<text x="41.20" y="222.25" font-size="7" fill="#333" stroke="#333" stroke-width="0.220" text-anchor="end" >Constructed</text>
<text x="41.20" y="234.90" font-size="7" fill="#333" stroke="#333" stroke-width="0.220" text-anchor="end" >Agriculture</text>
<text x="41.20" y="247.55" font-size="7" fill="#333" stroke="#333" stroke-width="0.220" text-anchor="end" >POP</text>
<text x="41.20" y="260.20" font-size="7" fill="#333" stroke="#333" stroke-width="0.220" text-anchor="end" >SST</text>
<text x="41.20" y="272.85" font-size="7" fill="#333" stroke="#333" stroke-width="0.220" text-anchor="end" >Pre</text>
<text x="41.20" y="285.50" font-size="7" fill="#333" stroke="#333" stroke-width="0.220" text-anchor="end" >Forests</text>
<text x="41.20" y="298.15" font-size="7" fill="#333" stroke="#333" stroke-width="0.220" text-anchor="end" >Hum</text>
<text x="41.20" y="310.80" font-size="7" fill="#333" stroke="#333" stroke-width="0.220" text-anchor="end" >NLI</text>
<text x="41.20" y="323.45" font-size="7" fill="#333" stroke="#333" stroke-width="0.220" text-anchor="end" >Slope</text>
<text x="41.20" y="336.10" font-size="7" fill="#333" stroke="#333" stroke-width="0.220" text-anchor="end" >Tem</text>
<text x="41.20" y="348.75" font-size="7" fill="#333" stroke="#333" stroke-width="0.220" text-anchor="end" >Elevation</text>
<text x="41.20" y="361.40" font-size="7" fill="#333" stroke="#333" stroke-width="0.220" text-anchor="end" >NDVI</text>
<circle cx="60.80" cy="219.70" r="1.0" fill="#ee0c50"/>
<circle cx="63.50" cy="219.70" r="1.0" fill="#ee0c50"/>
<circle cx="96.50" cy="219.70" r="1.0" fill="#ee0c50"/>
<rect x="66.00" y="218.70" width="4.50" height="2.00" rx="1.0" fill="#ee0c50"/>
<rect x="74.00" y="218.70" width="13.00" height="2.00" rx="1.0" fill="#ee0c50"/>
<rect x="88.50" y="218.70" width="7.00" height="2.00" rx="1.0" fill="#ee0c50"/>
<rect x="98.50" y="218.70" width="2.00" height="2.00" rx="1.0" fill="#ee0c50"/>
<rect x="101.50" y="218.70" width="3.00" height="2.00" rx="1.0" fill="#ee0c50"/>
<polygon points="105.50,218.55 150.00,218.50 165.00,218.20 172.00,218.00 178.50,218.55 178.50,220.85 172.00,221.40 165.00,221.20 150.00,220.90 105.50,220.85" fill="url(#g14)"/>
<polygon points="186.50,218.55 188.80,218.30 189.60,215.20 190.50,214.10 192.50,214.10 193.60,215.50 194.60,218.10 195.80,218.55 195.80,220.85 194.60,221.30 193.60,223.90 192.50,225.30 190.50,225.30 189.60,224.20 188.80,221.10 186.50,220.85" fill="url(#g15)"/>
<rect x="166.30" y="231.35" width="4.00" height="2.00" rx="1.0" fill="#2373cd"/>
<polygon points="173.80,231.15 177.00,231.05 178.50,229.85 179.80,227.85 181.00,227.35 182.30,228.05 183.50,229.35 185.00,229.95 190.00,230.05 193.00,229.75 195.00,228.75 197.00,228.15 199.00,228.95 200.50,230.35 203.00,230.85 210.20,231.20 210.20,233.50 203.00,233.85 200.50,234.35 199.00,235.75 197.00,236.55 195.00,235.95 193.00,234.95 190.00,234.65 185.00,234.75 183.50,235.35 182.30,236.65 181.00,237.35 179.80,236.85 178.50,234.85 177.00,233.65 173.80,233.55" fill="url(#g16)"/>
<polygon points="149.60,243.80 165.00,243.70 170.00,243.40 174.00,242.80 178.00,242.00 181.00,241.00 184.00,240.00 187.00,239.40 190.00,239.80 192.50,241.00 194.50,242.50 196.50,243.40 200.00,243.70 204.50,243.85 204.50,246.15 200.00,246.30 196.50,246.60 194.50,247.50 192.50,249.00 190.00,250.20 187.00,250.60 184.00,250.00 181.00,249.00 178.00,248.00 174.00,247.20 170.00,246.60 165.00,246.30 149.60,246.20" fill="url(#g17)"/>
<circle cx="163.50" cy="257.65" r="1.0" fill="#ee0c50"/>
<circle cx="166.00" cy="257.65" r="1.0" fill="#ee0c50"/>
<circle cx="168.50" cy="257.65" r="1.0" fill="#ee0c50"/>
<circle cx="171.00" cy="257.65" r="1.0" fill="#ee0c50"/>
<circle cx="173.50" cy="257.65" r="1.0" fill="#ee0c50"/>
<polygon points="175.00,256.45 180.00,256.25 182.50,255.15 184.00,253.65 185.50,252.75 187.00,252.45 188.50,252.75 190.00,253.85 191.50,255.45 194.00,256.15 198.00,256.35 204.50,256.50 204.50,258.80 198.00,258.95 194.00,259.15 191.50,259.85 190.00,261.45 188.50,262.55 187.00,262.85 185.50,262.55 184.00,261.65 182.50,260.15 180.00,259.05 175.00,258.85" fill="url(#g18)"/>
<circle cx="145.90" cy="270.30" r="1.0" fill="#2373cd"/>
<circle cx="162.40" cy="270.30" r="1.0" fill="#2373cd"/>
<polygon points="170.90,269.10 178.00,268.90 181.00,268.30 183.00,267.50 184.50,266.30 185.80,265.10 187.20,264.70 188.60,265.10 190.00,266.50 191.20,267.90 193.00,268.50 196.00,268.80 201.20,269.15 201.20,271.45 196.00,271.80 193.00,272.10 191.20,272.70 190.00,274.10 188.60,275.50 187.20,275.90 185.80,275.50 184.50,274.30 183.00,273.10 181.00,272.30 178.00,271.70 170.90,271.50" fill="url(#g19)"/>
<circle cx="143.90" cy="282.95" r="1.0" fill="#2373cd"/>
<circle cx="148.30" cy="282.95" r="1.0" fill="#2373cd"/>
<circle cx="150.00" cy="282.95" r="1.0" fill="#2373cd"/>
<circle cx="152.90" cy="282.95" r="1.0" fill="#2373cd"/>
<polygon points="172.20,281.80 180.00,281.55 182.50,280.95 184.00,279.75 185.50,278.35 187.00,277.95 188.50,278.35 189.80,279.55 191.00,280.35 193.00,280.75 194.60,281.65 194.60,284.25 193.00,285.15 191.00,285.55 189.80,286.35 188.50,287.55 187.00,287.95 185.50,287.55 184.00,286.15 182.50,284.95 180.00,284.35 172.20,284.10" fill="url(#g20)"/>
<circle cx="169.30" cy="295.60" r="1.0" fill="#2373cd"/>
<polygon points="175.00,294.45 181.00,294.10 183.00,293.40 184.50,292.10 186.00,290.80 187.40,290.40 188.80,291.00 190.00,292.40 191.50,293.30 194.00,293.70 197.90,294.45 197.90,296.75 194.00,297.50 191.50,297.90 190.00,298.80 188.80,300.20 187.40,300.80 186.00,300.40 184.50,299.10 183.00,297.80 181.00,297.10 175.00,296.75" fill="url(#g21)"/>
<circle cx="160.80" cy="308.25" r="1.0" fill="#ee0c50"/>
<polygon points="164.40,307.06 183.50,306.85 185.00,306.85 185.40,304.64 185.80,303.67 186.20,303.08 186.60,302.72 187.00,302.51 187.40,302.45 187.80,302.51 188.20,302.72 188.60,303.08 189.00,303.67 189.40,304.64 189.80,306.85 191.30,306.85 193.00,307.06 193.00,309.44 191.30,309.65 189.80,309.65 189.40,311.86 189.00,312.83 188.60,313.42 188.20,313.78 187.80,313.99 187.40,314.05 187.00,313.99 186.60,313.78 186.20,313.42 185.80,312.83 185.40,311.86 185.00,309.65 183.50,309.65 164.40,309.44" fill="url(#g22)"/>
<polygon points="171.70,319.71 183.50,319.50 185.00,319.50 185.40,317.41 185.80,316.47 186.20,315.91 186.60,315.56 187.00,315.36 187.40,315.30 187.80,315.36 188.20,315.56 188.60,315.91 189.00,316.47 189.40,317.41 189.80,319.50 191.30,319.50 197.90,319.71 197.90,322.09 191.30,322.30 189.80,322.30 189.40,324.39 189.00,325.33 188.60,325.89 188.20,326.24 187.80,326.44 187.40,326.50 187.00,326.44 186.60,326.24 186.20,325.89 185.80,325.33 185.40,324.39 185.00,322.30 183.50,322.30 171.70,322.09" fill="url(#g23)"/>
<polygon points="173.40,332.36 183.50,332.15 185.00,332.15 185.40,330.25 185.80,329.36 186.20,328.83 186.60,328.49 187.00,328.31 187.40,328.25 187.80,328.31 188.20,328.49 188.60,328.83 189.00,329.36 189.40,330.25 189.80,332.15 191.30,332.15 196.30,332.36 196.30,334.74 191.30,334.95 189.80,334.95 189.40,336.85 189.00,337.74 188.60,338.27 188.20,338.61 187.80,338.79 187.40,338.85 187.00,338.79 186.60,338.61 186.20,338.27 185.80,337.74 185.40,336.85 185.00,334.95 183.50,334.95 173.40,334.74" fill="url(#g24)"/>
<circle cx="172.60" cy="346.20" r="1.0" fill="#ee0c50"/>
<polygon points="176.20,345.01 182.90,344.80 184.40,344.80 184.87,343.09 185.33,342.25 185.80,341.74 186.27,341.43 186.73,341.26 187.20,341.20 187.67,341.26 188.13,341.43 188.60,341.74 189.07,342.25 189.53,343.09 190.00,344.80 191.50,344.80 203.60,345.01 203.60,347.39 191.50,347.60 190.00,347.60 189.53,349.31 189.07,350.15 188.60,350.66 188.13,350.97 187.67,351.14 187.20,351.20 186.73,351.14 186.27,350.97 185.80,350.66 185.33,350.15 184.87,349.31 184.40,347.60 182.90,347.60 176.20,347.39" fill="url(#g25)"/>
<circle cx="160.00" cy="358.85" r="1.0" fill="#ee0c50"/>
<circle cx="163.50" cy="358.85" r="1.0" fill="#ee0c50"/>
<circle cx="168.00" cy="358.85" r="1.0" fill="#2373cd"/>
<circle cx="170.50" cy="358.85" r="1.0" fill="#2373cd"/>
<polygon points="173.00,357.66 182.90,357.45 184.40,357.45 184.83,355.36 185.27,354.42 185.70,353.86 186.13,353.51 186.57,353.31 187.00,353.25 187.43,353.31 187.87,353.51 188.30,353.86 188.73,354.42 189.17,355.36 189.60,357.45 191.10,357.45 201.20,357.66 201.20,360.04 191.10,360.25 189.60,360.25 189.17,362.34 188.73,363.28 188.30,363.84 187.87,364.19 187.43,364.39 187.00,364.45 186.57,364.39 186.13,364.19 185.70,363.84 185.27,363.28 184.83,362.34 184.40,360.25 182.90,360.25 173.00,360.04" fill="url(#g26)"/>
<line x1="53.40" y1="371.40" x2="217.40" y2="371.40" stroke="#555" stroke-width="0.85" />
<line x1="63.00" y1="371.40" x2="63.00" y2="373.40" stroke="#555" stroke-width="0.6" />
<text x="63.00" y="379.30" font-size="5.8" fill="#333" stroke="#333" stroke-width="0.182" text-anchor="middle" >-0.5</text>
<line x1="87.80" y1="371.40" x2="87.80" y2="373.40" stroke="#555" stroke-width="0.6" />
<text x="87.80" y="379.30" font-size="5.8" fill="#333" stroke="#333" stroke-width="0.182" text-anchor="middle" >-0.4</text>
<line x1="112.60" y1="371.40" x2="112.60" y2="373.40" stroke="#555" stroke-width="0.6" />
<text x="112.60" y="379.30" font-size="5.8" fill="#333" stroke="#333" stroke-width="0.182" text-anchor="middle" >-0.3</text>
<line x1="137.40" y1="371.40" x2="137.40" y2="373.40" stroke="#555" stroke-width="0.6" />
<text x="137.40" y="379.30" font-size="5.8" fill="#333" stroke="#333" stroke-width="0.182" text-anchor="middle" >-0.2</text>
<line x1="162.20" y1="371.40" x2="162.20" y2="373.40" stroke="#555" stroke-width="0.6" />
<text x="162.20" y="379.30" font-size="5.8" fill="#333" stroke="#333" stroke-width="0.182" text-anchor="middle" >-0.1</text>
<line x1="187.00" y1="371.40" x2="187.00" y2="373.40" stroke="#555" stroke-width="0.6" />
<text x="187.00" y="379.30" font-size="5.8" fill="#333" stroke="#333" stroke-width="0.182" text-anchor="middle" >0.0</text>
<line x1="211.80" y1="371.40" x2="211.80" y2="373.40" stroke="#555" stroke-width="0.6" />
<text x="211.80" y="379.30" font-size="5.8" fill="#333" stroke="#333" stroke-width="0.182" text-anchor="middle" >0.1</text>
<text x="80.10" y="387.80" font-size="7" fill="#222" stroke="#222" stroke-width="0.220" text-anchor="start" >SHAP value (impact on model output)</text>
<rect x="227.00" y="206.80" width="2.40" height="164.70" fill="url(#cb27)" />
<text x="231.20" y="209.20" font-size="6" fill="#333" stroke="#333" stroke-width="0.189" text-anchor="start" >High</text>
<text x="231.20" y="373.60" font-size="6" fill="#333" stroke="#333" stroke-width="0.189" text-anchor="start" >Low</text>
<text transform="translate(246.80,289.00) rotate(-90)" x="0" y="0" font-size="6.2" fill="#333" stroke="#333" stroke-width="0.198" text-anchor="middle">Eigenvalues</text>
<text x="28.90" y="406.80" font-size="16" fill="#000" stroke="#000" stroke-width="0.120" text-anchor="start" >NPP</text>
<line x1="60.00" y1="414.40" x2="218.40" y2="414.40" stroke="#f0f0f0" stroke-width="0.7" />
<line x1="60.00" y1="426.84" x2="218.40" y2="426.84" stroke="#f0f0f0" stroke-width="0.7" />
<line x1="60.00" y1="439.28" x2="218.40" y2="439.28" stroke="#f0f0f0" stroke-width="0.7" />
<line x1="60.00" y1="451.72" x2="218.40" y2="451.72" stroke="#f0f0f0" stroke-width="0.7" />
<line x1="60.00" y1="464.16" x2="218.40" y2="464.16" stroke="#f0f0f0" stroke-width="0.7" />
<line x1="60.00" y1="476.60" x2="218.40" y2="476.60" stroke="#f0f0f0" stroke-width="0.7" />
<line x1="60.00" y1="489.04" x2="218.40" y2="489.04" stroke="#f0f0f0" stroke-width="0.7" />
<line x1="60.00" y1="501.48" x2="218.40" y2="501.48" stroke="#f0f0f0" stroke-width="0.7" />
<line x1="60.00" y1="513.92" x2="218.40" y2="513.92" stroke="#f0f0f0" stroke-width="0.7" />
<line x1="60.00" y1="526.36" x2="218.40" y2="526.36" stroke="#f0f0f0" stroke-width="0.7" />
<line x1="60.00" y1="538.80" x2="218.40" y2="538.80" stroke="#f0f0f0" stroke-width="0.7" />
<line x1="60.00" y1="551.24" x2="218.40" y2="551.24" stroke="#f0f0f0" stroke-width="0.7" />
<line x1="148.40" y1="402.00" x2="148.40" y2="563.40" stroke="#a8a8a8" stroke-width="0.8" />
<text x="47.10" y="416.95" font-size="7" fill="#333" stroke="#333" stroke-width="0.220" text-anchor="end" >NDVI</text>
<text x="47.10" y="429.39" font-size="7" fill="#333" stroke="#333" stroke-width="0.220" text-anchor="end" >SST</text>
<text x="47.10" y="441.83" font-size="7" fill="#333" stroke="#333" stroke-width="0.220" text-anchor="end" >Pre</text>
<text x="47.10" y="454.27" font-size="7" fill="#333" stroke="#333" stroke-width="0.220" text-anchor="end" >Forests</text>
<text x="47.10" y="466.71" font-size="7" fill="#333" stroke="#333" stroke-width="0.220" text-anchor="end" >Slope</text>
<text x="47.10" y="479.15" font-size="7" fill="#333" stroke="#333" stroke-width="0.220" text-anchor="end" >Hum</text>
<text x="47.10" y="491.59" font-size="7" fill="#333" stroke="#333" stroke-width="0.220" text-anchor="end" >Tem</text>
<text x="47.10" y="504.03" font-size="7" fill="#333" stroke="#333" stroke-width="0.220" text-anchor="end" >Elevation</text>
<text x="47.10" y="516.47" font-size="7" fill="#333" stroke="#333" stroke-width="0.220" text-anchor="end" >Agriculture</text>
<text x="47.10" y="528.91" font-size="7" fill="#333" stroke="#333" stroke-width="0.220" text-anchor="end" >POP</text>
<text x="47.10" y="541.35" font-size="7" fill="#333" stroke="#333" stroke-width="0.220" text-anchor="end" >NLI</text>
<text x="47.10" y="553.79" font-size="7" fill="#333" stroke="#333" stroke-width="0.220" text-anchor="end" >Constructed</text>
<rect x="66.00" y="413.40" width="5.00" height="2.00" rx="1.0" fill="#2373cd"/>
<rect x="72.00" y="413.40" width="4.00" height="2.00" rx="1.0" fill="#2373cd"/>
<rect x="77.00" y="413.40" width="3.50" height="2.00" rx="1.0" fill="#2373cd"/>
<circle cx="84.50" cy="414.40" r="1.0" fill="#2373cd"/>
<polygon points="87.80,413.25 100.00,413.20 111.40,412.90 113.00,412.30 125.00,412.20 135.00,411.80 140.00,411.40 148.50,410.90 152.00,410.10 155.00,409.20 157.90,408.90 160.00,409.40 163.00,410.80 165.00,411.80 168.00,412.40 175.00,412.70 190.00,412.95 209.40,413.25 209.40,415.55 190.00,415.85 175.00,416.10 168.00,416.40 165.00,417.00 163.00,418.00 160.00,419.40 157.90,419.90 155.00,419.60 152.00,418.70 148.50,417.90 140.00,417.40 135.00,417.00 125.00,416.60 113.00,416.50 111.40,415.90 100.00,415.60 87.80,415.55" fill="url(#g28)"/>
<circle cx="211.80" cy="414.40" r="1.0" fill="#ee0c50"/>
<polygon points="114.50,425.69 135.00,425.69 140.00,425.04 143.00,423.34 146.40,421.94 148.50,422.54 150.00,423.64 155.00,424.04 160.00,424.84 163.00,425.34 176.20,425.69 176.20,427.99 163.00,428.34 160.00,428.84 155.00,429.64 150.00,430.04 148.50,431.14 146.40,431.74 143.00,430.34 140.00,428.64 135.00,427.99 114.50,427.99" fill="url(#g29)"/>
<circle cx="121.10" cy="439.28" r="1.0" fill="#2373cd"/>
<polygon points="130.10,438.13 140.00,437.98 142.40,436.78 145.00,435.28 148.10,434.58 151.00,435.28 154.60,437.48 158.00,438.08 166.10,438.13 166.10,440.43 158.00,440.48 154.60,441.08 151.00,443.28 148.10,443.98 145.00,443.28 142.40,441.78 140.00,440.58 130.10,440.43" fill="url(#g30)"/>
<circle cx="110.50" cy="451.72" r="1.0" fill="#2373cd"/>
<circle cx="114.50" cy="451.72" r="1.0" fill="#2373cd"/>
<circle cx="121.90" cy="451.72" r="1.0" fill="#2373cd"/>
<polygon points="132.20,450.57 140.00,450.22 144.00,448.72 147.00,447.42 149.70,446.82 152.00,447.42 154.00,448.72 156.00,449.92 160.40,450.57 160.40,452.87 156.00,453.52 154.00,454.72 152.00,456.02 149.70,456.62 147.00,456.02 144.00,454.72 140.00,453.22 132.20,452.87" fill="url(#g31)"/>
<polygon points="130.60,462.97 145.50,462.76 147.00,462.76 147.55,460.74 148.10,459.81 148.65,459.26 149.20,458.91 149.75,458.72 150.30,458.66 150.85,458.72 151.40,458.91 151.95,459.26 152.50,459.81 153.05,460.74 153.60,462.76 155.10,462.76 162.00,462.97 162.00,465.35 155.10,465.56 153.60,465.56 153.05,467.58 152.50,468.51 151.95,469.06 151.40,469.41 150.85,469.60 150.30,469.66 149.75,469.60 149.20,469.41 148.65,469.06 148.10,468.51 147.55,467.58 147.00,465.56 145.50,465.56 130.60,465.35" fill="url(#g32)"/>
<polygon points="133.40,475.45 138.00,475.30 141.00,474.40 143.00,473.10 145.00,472.00 147.00,471.30 148.50,471.00 150.00,471.10 152.00,471.80 153.50,473.10 155.00,474.40 157.00,474.90 160.00,475.10 164.50,475.45 164.50,477.75 160.00,478.10 157.00,478.30 155.00,478.80 153.50,480.10 152.00,481.40 150.00,482.10 148.50,482.20 147.00,481.90 145.00,481.20 143.00,480.10 141.00,478.80 138.00,477.90 133.40,477.75" fill="url(#g33)"/>
<circle cx="171.00" cy="476.60" r="1.0" fill="#ee0c50"/>
<polygon points="119.50,487.76 144.90,487.54 146.40,487.54 146.83,485.55 147.27,484.61 147.70,484.05 148.13,483.70 148.57,483.50 149.00,483.44 149.43,483.50 149.87,483.70 150.30,484.05 150.73,484.61 151.17,485.55 151.60,487.54 153.10,487.54 160.40,487.76 160.40,490.31 153.10,490.54 151.60,490.54 151.17,492.53 150.73,493.47 150.30,494.03 149.87,494.38 149.43,494.58 149.00,494.64 148.57,494.58 148.13,494.38 147.70,494.03 147.27,493.47 146.83,492.53 146.40,490.54 144.90,490.54 119.50,490.31" fill="url(#g34)"/>
<polygon points="132.90,500.29 144.70,500.08 146.20,500.08 146.63,498.12 147.07,497.21 147.50,496.67 147.93,496.33 148.37,496.14 148.80,496.08 149.23,496.14 149.67,496.33 150.10,496.67 150.53,497.21 150.97,498.12 151.40,500.08 152.90,500.08 163.30,500.29 163.30,502.67 152.90,502.88 151.40,502.88 150.97,504.84 150.53,505.75 150.10,506.29 149.67,506.63 149.23,506.82 148.80,506.88 148.37,506.82 147.93,506.63 147.50,506.29 147.07,505.75 146.63,504.84 146.20,502.88 144.70,502.88 132.90,502.67" fill="url(#g35)"/>
<polygon points="138.30,512.73 145.30,512.52 146.80,512.52 147.13,510.37 147.47,509.41 147.80,508.84 148.13,508.48 148.47,508.28 148.80,508.22 149.13,508.28 149.47,508.48 149.80,508.84 150.13,509.41 150.47,510.37 150.80,512.52 152.30,512.52 154.20,512.73 154.20,515.11 152.30,515.32 150.80,515.32 150.47,517.47 150.13,518.43 149.80,519.00 149.47,519.36 149.13,519.56 148.80,519.62 148.47,519.56 148.13,519.36 147.80,519.00 147.47,518.43 147.13,517.47 146.80,515.32 145.30,515.32 138.30,515.11" fill="url(#g36)"/>
<circle cx="135.80" cy="526.36" r="1.0" fill="#2373cd"/>
<polygon points="138.80,525.17 145.30,524.96 146.80,524.96 147.13,522.81 147.47,521.85 147.80,521.28 148.13,520.92 148.47,520.72 148.80,520.66 149.13,520.72 149.47,520.92 149.80,521.28 150.13,521.85 150.47,522.81 150.80,524.96 152.30,524.96 160.70,525.17 160.70,527.55 152.30,527.76 150.80,527.76 150.47,529.91 150.13,530.87 149.80,531.44 149.47,531.80 149.13,532.00 148.80,532.06 148.47,532.00 148.13,531.80 147.80,531.44 147.47,530.87 147.13,529.91 146.80,527.76 145.30,527.76 138.80,527.55" fill="url(#g37)"/>
<circle cx="137.50" cy="538.80" r="1.0" fill="#2373cd"/>
<polygon points="140.00,537.61 145.30,537.40 146.80,537.40 147.13,535.25 147.47,534.29 147.80,533.72 148.13,533.36 148.47,533.16 148.80,533.10 149.13,533.16 149.47,533.36 149.80,533.72 150.13,534.29 150.47,535.25 150.80,537.40 152.30,537.40 156.30,537.61 156.30,539.99 152.30,540.20 150.80,540.20 150.47,542.35 150.13,543.31 149.80,543.88 149.47,544.24 149.13,544.44 148.80,544.50 148.47,544.44 148.13,544.24 147.80,543.88 147.47,543.31 147.13,542.35 146.80,540.20 145.30,540.20 140.00,539.99" fill="url(#g38)"/>
<circle cx="160.70" cy="538.80" r="1.0" fill="#2373cd"/>
<polygon points="143.20,550.05 145.50,549.84 147.00,549.84 147.30,547.94 147.60,547.05 147.90,546.52 148.20,546.18 148.50,546.00 148.80,545.94 149.10,546.00 149.40,546.18 149.70,546.52 150.00,547.05 150.30,547.94 150.60,549.84 152.10,549.84 155.50,550.05 155.50,552.43 152.10,552.64 150.60,552.64 150.30,554.54 150.00,555.43 149.70,555.96 149.40,556.30 149.10,556.48 148.80,556.54 148.50,556.48 148.20,556.30 147.90,555.96 147.60,555.43 147.30,554.54 147.00,552.64 145.50,552.64 143.20,552.43" fill="url(#g39)"/>
<line x1="60.00" y1="563.40" x2="218.40" y2="563.40" stroke="#555" stroke-width="0.85" />
<line x1="72.20" y1="563.40" x2="72.20" y2="565.40" stroke="#555" stroke-width="0.6" />
<text x="72.20" y="571.30" font-size="5.8" fill="#333" stroke="#333" stroke-width="0.182" text-anchor="middle" >-0.3</text>
<line x1="97.60" y1="563.40" x2="97.60" y2="565.40" stroke="#555" stroke-width="0.6" />
<text x="97.60" y="571.30" font-size="5.8" fill="#333" stroke="#333" stroke-width="0.182" text-anchor="middle" >-0.2</text>
<line x1="123.00" y1="563.40" x2="123.00" y2="565.40" stroke="#555" stroke-width="0.6" />
<text x="123.00" y="571.30" font-size="5.8" fill="#333" stroke="#333" stroke-width="0.182" text-anchor="middle" >-0.1</text>
<line x1="148.40" y1="563.40" x2="148.40" y2="565.40" stroke="#555" stroke-width="0.6" />
<text x="148.40" y="571.30" font-size="5.8" fill="#333" stroke="#333" stroke-width="0.182" text-anchor="middle" >0.0</text>
<line x1="173.80" y1="563.40" x2="173.80" y2="565.40" stroke="#555" stroke-width="0.6" />
<text x="173.80" y="571.30" font-size="5.8" fill="#333" stroke="#333" stroke-width="0.182" text-anchor="middle" >0.1</text>
<line x1="199.20" y1="563.40" x2="199.20" y2="565.40" stroke="#555" stroke-width="0.6" />
<text x="199.20" y="571.30" font-size="5.8" fill="#333" stroke="#333" stroke-width="0.182" text-anchor="middle" >0.2</text>
<text x="85.80" y="579.80" font-size="7" fill="#222" stroke="#222" stroke-width="0.220" text-anchor="start" >SHAP value (impact on model output)</text>
<rect x="228.60" y="402.00" width="2.40" height="161.20" fill="url(#cb40)" />
<text x="232.80" y="404.20" font-size="6" fill="#333" stroke="#333" stroke-width="0.189" text-anchor="start" >High</text>
<text x="232.80" y="565.80" font-size="6" fill="#333" stroke="#333" stroke-width="0.189" text-anchor="start" >Low</text>
<text transform="translate(247.80,482.50) rotate(-90)" x="0" y="0" font-size="6.2" fill="#333" stroke="#333" stroke-width="0.198" text-anchor="middle">Eigenvalues</text>
<line x1="328.80" y1="23.45" x2="539.00" y2="23.45" stroke="#f0f0f0" stroke-width="0.7" />
<line x1="328.80" y1="39.25" x2="539.00" y2="39.25" stroke="#f0f0f0" stroke-width="0.7" />
<line x1="328.80" y1="55.05" x2="539.00" y2="55.05" stroke="#f0f0f0" stroke-width="0.7" />
<line x1="328.80" y1="70.85" x2="539.00" y2="70.85" stroke="#f0f0f0" stroke-width="0.7" />
<line x1="328.80" y1="86.65" x2="539.00" y2="86.65" stroke="#f0f0f0" stroke-width="0.7" />
<line x1="328.80" y1="102.45" x2="539.00" y2="102.45" stroke="#f0f0f0" stroke-width="0.7" />
<line x1="328.80" y1="118.25" x2="539.00" y2="118.25" stroke="#f0f0f0" stroke-width="0.7" />
<line x1="328.80" y1="134.05" x2="539.00" y2="134.05" stroke="#f0f0f0" stroke-width="0.7" />
<line x1="328.80" y1="149.85" x2="539.00" y2="149.85" stroke="#f0f0f0" stroke-width="0.7" />
<line x1="328.80" y1="165.65" x2="539.00" y2="165.65" stroke="#f0f0f0" stroke-width="0.7" />
<rect x="328.60" y="18.10" width="190.90" height="10.70" fill="#ff0051" />
<text x="521.80" y="25.05" font-size="5.7" fill="#ff0051" stroke="#ff0051" stroke-width="0.060" text-anchor="start" >+0.12</text>
<text x="325.90" y="25.75" font-size="6.15" fill="#a0a0a0" stroke="#a0a0a0" stroke-width="0.050" text-anchor="end" >0.539 = Forests</text>
<text x="325.90" y="25.75" font-size="6.15" fill="#0a0a0a" stroke="#0a0a0a" stroke-width="0.080" text-anchor="end" >Forests</text>
<rect x="328.60" y="33.90" width="24.50" height="10.70" fill="#ff0051" />
<text x="355.40" y="40.85" font-size="5.7" fill="#ff0051" stroke="#ff0051" stroke-width="0.060" text-anchor="start" >+0.02</text>
<text x="325.90" y="41.55" font-size="6.15" fill="#a0a0a0" stroke="#a0a0a0" stroke-width="0.050" text-anchor="end" >0.835 = NDVI</text>
<text x="325.90" y="41.55" font-size="6.15" fill="#0a0a0a" stroke="#0a0a0a" stroke-width="0.080" text-anchor="end" >NDVI</text>
<rect x="328.60" y="49.70" width="18.50" height="10.70" fill="#ff0051" />
<text x="349.40" y="56.65" font-size="5.7" fill="#ff0051" stroke="#ff0051" stroke-width="0.060" text-anchor="start" >+0.01</text>
<text x="325.90" y="57.35" font-size="6.15" fill="#a0a0a0" stroke="#a0a0a0" stroke-width="0.050" text-anchor="end" >1159.557 = Pre</text>
<text x="325.90" y="57.35" font-size="6.15" fill="#0a0a0a" stroke="#0a0a0a" stroke-width="0.080" text-anchor="end" >Pre</text>
<rect x="328.60" y="65.50" width="17.80" height="10.70" fill="#ff0051" />
<text x="348.70" y="72.45" font-size="5.7" fill="#ff0051" stroke="#ff0051" stroke-width="0.060" text-anchor="start" >+0.01</text>
<text x="325.90" y="73.15" font-size="6.15" fill="#a0a0a0" stroke="#a0a0a0" stroke-width="0.050" text-anchor="end" >0.191 = Agriculture</text>
<text x="325.90" y="73.15" font-size="6.15" fill="#0a0a0a" stroke="#0a0a0a" stroke-width="0.080" text-anchor="end" >Agriculture</text>
<rect x="328.60" y="81.30" width="17.60" height="10.70" fill="#ff0051" />
<text x="348.50" y="88.25" font-size="5.7" fill="#ff0051" stroke="#ff0051" stroke-width="0.060" text-anchor="start" >+0.01</text>
<text x="325.90" y="88.95" font-size="6.15" fill="#a0a0a0" stroke="#a0a0a0" stroke-width="0.050" text-anchor="end" >1896.48 = SST</text>
<text x="325.90" y="88.95" font-size="6.15" fill="#0a0a0a" stroke="#0a0a0a" stroke-width="0.080" text-anchor="end" >SST</text>
<rect x="328.60" y="97.10" width="17.10" height="10.70" fill="#ff0051" />
<text x="348.00" y="104.05" font-size="5.7" fill="#ff0051" stroke="#ff0051" stroke-width="0.060" text-anchor="start" >+0.01</text>
<text x="325.90" y="104.75" font-size="6.15" fill="#a0a0a0" stroke="#a0a0a0" stroke-width="0.050" text-anchor="end" >74.903 = Hum</text>
<text x="325.90" y="104.75" font-size="6.15" fill="#0a0a0a" stroke="#0a0a0a" stroke-width="0.080" text-anchor="end" >Hum</text>
<rect x="328.60" y="112.90" width="5.10" height="10.70" fill="#ff0051" />
<text x="336.00" y="119.85" font-size="5.7" fill="#ff0051" stroke="#ff0051" stroke-width="0.060" text-anchor="start" >+0</text>
<text x="325.90" y="120.55" font-size="6.15" fill="#a0a0a0" stroke="#a0a0a0" stroke-width="0.050" text-anchor="end" >17.092 = Tem</text>
<text x="325.90" y="120.55" font-size="6.15" fill="#0a0a0a" stroke="#0a0a0a" stroke-width="0.080" text-anchor="end" >Tem</text>
<rect x="328.60" y="128.70" width="4.30" height="10.70" fill="#ff0051" />
<text x="335.20" y="135.65" font-size="5.7" fill="#ff0051" stroke="#ff0051" stroke-width="0.060" text-anchor="start" >+0</text>
<text x="325.90" y="136.35" font-size="6.15" fill="#a0a0a0" stroke="#a0a0a0" stroke-width="0.050" text-anchor="end" >1467.638 = Elevation</text>
<text x="325.90" y="136.35" font-size="6.15" fill="#0a0a0a" stroke="#0a0a0a" stroke-width="0.080" text-anchor="end" >Elevation</text>
<rect x="328.60" y="144.50" width="3.80" height="10.70" fill="#ff0051" />
<text x="334.70" y="151.45" font-size="5.7" fill="#ff0051" stroke="#ff0051" stroke-width="0.060" text-anchor="start" >+0</text>
<text x="325.90" y="152.15" font-size="6.15" fill="#a0a0a0" stroke="#a0a0a0" stroke-width="0.050" text-anchor="end" >142.007 = POP</text>
<text x="325.90" y="152.15" font-size="6.15" fill="#0a0a0a" stroke="#0a0a0a" stroke-width="0.080" text-anchor="end" >POP</text>
<rect x="328.60" y="160.30" width="10.50" height="10.70" fill="#ff0051" />
<text x="341.40" y="167.25" font-size="5.7" fill="#ff0051" stroke="#ff0051" stroke-width="0.060" text-anchor="start" >+0.01</text>
<text x="325.90" y="167.95" font-size="6.15" fill="#0a0a0a" stroke="#0a0a0a" stroke-width="0.080" text-anchor="end" >Sum of 3 other features</text>
<line x1="328.80" y1="10.40" x2="328.80" y2="179.40" stroke="#7a7a7a" stroke-width="0.85" />
<line x1="328.80" y1="179.40" x2="539.00" y2="179.40" stroke="#666" stroke-width="0.8" />
<line x1="328.80" y1="179.40" x2="328.80" y2="181.00" stroke="#666" stroke-width="0.5" />
<text x="328.80" y="186.20" font-size="5" fill="#333" stroke="#333" stroke-width="0.157" text-anchor="middle" >0.00</text>
<line x1="359.60" y1="179.40" x2="359.60" y2="181.00" stroke="#666" stroke-width="0.5" />
<text x="359.60" y="186.20" font-size="5" fill="#333" stroke="#333" stroke-width="0.157" text-anchor="middle" >0.02</text>
<line x1="390.40" y1="179.40" x2="390.40" y2="181.00" stroke="#666" stroke-width="0.5" />
<text x="390.40" y="186.20" font-size="5" fill="#333" stroke="#333" stroke-width="0.157" text-anchor="middle" >0.04</text>
<line x1="421.20" y1="179.40" x2="421.20" y2="181.00" stroke="#666" stroke-width="0.5" />
<text x="421.20" y="186.20" font-size="5" fill="#333" stroke="#333" stroke-width="0.157" text-anchor="middle" >0.06</text>
<line x1="452.00" y1="179.40" x2="452.00" y2="181.00" stroke="#666" stroke-width="0.5" />
<text x="452.00" y="186.20" font-size="5" fill="#333" stroke="#333" stroke-width="0.157" text-anchor="middle" >0.08</text>
<line x1="482.80" y1="179.40" x2="482.80" y2="181.00" stroke="#666" stroke-width="0.5" />
<text x="482.80" y="186.20" font-size="5" fill="#333" stroke="#333" stroke-width="0.157" text-anchor="middle" >0.10</text>
<line x1="513.60" y1="179.40" x2="513.60" y2="181.00" stroke="#666" stroke-width="0.5" />
<text x="513.60" y="186.20" font-size="5" fill="#333" stroke="#333" stroke-width="0.157" text-anchor="middle" >0.12</text>
<text x="409.00" y="193.60" font-size="6" fill="#222" stroke="#222" stroke-width="0.189" text-anchor="start" >mean(|SHAP value|)</text>
<line x1="330.70" y1="221.30" x2="539.00" y2="221.30" stroke="#f0f0f0" stroke-width="0.7" />
<line x1="330.70" y1="237.14" x2="539.00" y2="237.14" stroke="#f0f0f0" stroke-width="0.7" />
<line x1="330.70" y1="252.98" x2="539.00" y2="252.98" stroke="#f0f0f0" stroke-width="0.7" />
<line x1="330.70" y1="268.82" x2="539.00" y2="268.82" stroke="#f0f0f0" stroke-width="0.7" />
<line x1="330.70" y1="284.66" x2="539.00" y2="284.66" stroke="#f0f0f0" stroke-width="0.7" />
<line x1="330.70" y1="300.50" x2="539.00" y2="300.50" stroke="#f0f0f0" stroke-width="0.7" />
<line x1="330.70" y1="316.34" x2="539.00" y2="316.34" stroke="#f0f0f0" stroke-width="0.7" />
<line x1="330.70" y1="332.18" x2="539.00" y2="332.18" stroke="#f0f0f0" stroke-width="0.7" />
<line x1="330.70" y1="348.02" x2="539.00" y2="348.02" stroke="#f0f0f0" stroke-width="0.7" />
<line x1="330.70" y1="363.86" x2="539.00" y2="363.86" stroke="#f0f0f0" stroke-width="0.7" />
<rect x="330.50" y="216.00" width="190.80" height="10.60" fill="#ff0051" />
<text x="523.60" y="222.90" font-size="5.7" fill="#ff0051" stroke="#ff0051" stroke-width="0.060" text-anchor="start" >+0.04</text>
<text x="327.90" y="223.60" font-size="6.15" fill="#a0a0a0" stroke="#a0a0a0" stroke-width="0.050" text-anchor="end" >0.012 = Constructed</text>
<text x="327.90" y="223.60" font-size="6.15" fill="#0a0a0a" stroke="#0a0a0a" stroke-width="0.080" text-anchor="end" >Constructed</text>
<rect x="330.50" y="231.84" width="122.80" height="10.60" fill="#ff0051" />
<text x="455.60" y="238.74" font-size="5.7" fill="#ff0051" stroke="#ff0051" stroke-width="0.060" text-anchor="start" >+0.02</text>
<text x="327.90" y="239.44" font-size="6.15" fill="#a0a0a0" stroke="#a0a0a0" stroke-width="0.050" text-anchor="end" >0.191 = Agriculture</text>
<text x="327.90" y="239.44" font-size="6.15" fill="#0a0a0a" stroke="#0a0a0a" stroke-width="0.080" text-anchor="end" >Agriculture</text>
<rect x="330.50" y="247.68" width="81.70" height="10.60" fill="#ff0051" />
<text x="414.50" y="254.58" font-size="5.7" fill="#ff0051" stroke="#ff0051" stroke-width="0.060" text-anchor="start" >+0.02</text>
<text x="327.90" y="255.28" font-size="6.15" fill="#a0a0a0" stroke="#a0a0a0" stroke-width="0.050" text-anchor="end" >142.007 = POP</text>
<text x="327.90" y="255.28" font-size="6.15" fill="#0a0a0a" stroke="#0a0a0a" stroke-width="0.080" text-anchor="end" >POP</text>
<rect x="330.50" y="263.52" width="46.10" height="10.60" fill="#ff0051" />
<text x="378.90" y="270.42" font-size="5.7" fill="#ff0051" stroke="#ff0051" stroke-width="0.060" text-anchor="start" >+0.01</text>
<text x="327.90" y="271.12" font-size="6.15" fill="#a0a0a0" stroke="#a0a0a0" stroke-width="0.050" text-anchor="end" >1896.48 = SST</text>
<text x="327.90" y="271.12" font-size="6.15" fill="#0a0a0a" stroke="#0a0a0a" stroke-width="0.080" text-anchor="end" >SST</text>
<rect x="330.50" y="279.36" width="41.60" height="10.60" fill="#ff0051" />
<text x="374.40" y="286.26" font-size="5.7" fill="#ff0051" stroke="#ff0051" stroke-width="0.060" text-anchor="start" >+0.01</text>
<text x="327.90" y="286.96" font-size="6.15" fill="#a0a0a0" stroke="#a0a0a0" stroke-width="0.050" text-anchor="end" >1159.557 = Pre</text>
<text x="327.90" y="286.96" font-size="6.15" fill="#0a0a0a" stroke="#0a0a0a" stroke-width="0.080" text-anchor="end" >Pre</text>
<rect x="330.50" y="295.20" width="38.20" height="10.60" fill="#ff0051" />
<text x="371.00" y="302.10" font-size="5.7" fill="#ff0051" stroke="#ff0051" stroke-width="0.060" text-anchor="start" >+0.01</text>
<text x="327.90" y="302.80" font-size="6.15" fill="#a0a0a0" stroke="#a0a0a0" stroke-width="0.050" text-anchor="end" >0.539 = Forests</text>
<text x="327.90" y="302.80" font-size="6.15" fill="#0a0a0a" stroke="#0a0a0a" stroke-width="0.080" text-anchor="end" >Forests</text>
<rect x="330.50" y="311.04" width="37.80" height="10.60" fill="#ff0051" />
<text x="370.60" y="317.94" font-size="5.7" fill="#ff0051" stroke="#ff0051" stroke-width="0.060" text-anchor="start" >+0.01</text>
<text x="327.90" y="318.64" font-size="6.15" fill="#a0a0a0" stroke="#a0a0a0" stroke-width="0.050" text-anchor="end" >74.903 = Hum</text>
<text x="327.90" y="318.64" font-size="6.15" fill="#0a0a0a" stroke="#0a0a0a" stroke-width="0.080" text-anchor="end" >Hum</text>
<rect x="330.50" y="326.88" width="27.30" height="10.60" fill="#ff0051" />
<text x="360.10" y="333.78" font-size="5.7" fill="#ff0051" stroke="#ff0051" stroke-width="0.060" text-anchor="start" >+0.01</text>
<text x="327.90" y="334.48" font-size="6.15" fill="#a0a0a0" stroke="#a0a0a0" stroke-width="0.050" text-anchor="end" >201.181 = NLI</text>
<text x="327.90" y="334.48" font-size="6.15" fill="#0a0a0a" stroke="#0a0a0a" stroke-width="0.080" text-anchor="end" >NLI</text>
<rect x="330.50" y="342.72" width="22.30" height="10.60" fill="#ff0051" />
<text x="355.10" y="349.62" font-size="5.7" fill="#ff0051" stroke="#ff0051" stroke-width="0.060" text-anchor="start" >+0</text>
<text x="327.90" y="350.32" font-size="6.15" fill="#a0a0a0" stroke="#a0a0a0" stroke-width="0.050" text-anchor="end" >18.919 = Slope</text>
<text x="327.90" y="350.32" font-size="6.15" fill="#0a0a0a" stroke="#0a0a0a" stroke-width="0.080" text-anchor="end" >Slope</text>
<rect x="330.50" y="358.56" width="58.00" height="10.60" fill="#ff0051" />
<text x="390.80" y="365.46" font-size="5.7" fill="#ff0051" stroke="#ff0051" stroke-width="0.060" text-anchor="start" >+0.01</text>
<text x="327.90" y="366.16" font-size="6.15" fill="#0a0a0a" stroke="#0a0a0a" stroke-width="0.080" text-anchor="end" >Sum of 3 other features</text>
<line x1="330.70" y1="208.20" x2="330.70" y2="376.80" stroke="#7a7a7a" stroke-width="0.85" />
<line x1="330.70" y1="376.80" x2="539.00" y2="376.80" stroke="#666" stroke-width="0.8" />
<line x1="330.70" y1="376.80" x2="330.70" y2="378.40" stroke="#666" stroke-width="0.5" />
<text x="330.70" y="383.60" font-size="5" fill="#333" stroke="#333" stroke-width="0.157" text-anchor="middle" >0.000</text>
<line x1="356.65" y1="376.80" x2="356.65" y2="378.40" stroke="#666" stroke-width="0.5" />
<text x="356.65" y="383.60" font-size="5" fill="#333" stroke="#333" stroke-width="0.157" text-anchor="middle" >0.005</text>
<line x1="382.60" y1="376.80" x2="382.60" y2="378.40" stroke="#666" stroke-width="0.5" />
<text x="382.60" y="383.60" font-size="5" fill="#333" stroke="#333" stroke-width="0.157" text-anchor="middle" >0.010</text>
<line x1="408.55" y1="376.80" x2="408.55" y2="378.40" stroke="#666" stroke-width="0.5" />
<text x="408.55" y="383.60" font-size="5" fill="#333" stroke="#333" stroke-width="0.157" text-anchor="middle" >0.015</text>
<line x1="434.50" y1="376.80" x2="434.50" y2="378.40" stroke="#666" stroke-width="0.5" />
<text x="434.50" y="383.60" font-size="5" fill="#333" stroke="#333" stroke-width="0.157" text-anchor="middle" >0.020</text>
<line x1="460.45" y1="376.80" x2="460.45" y2="378.40" stroke="#666" stroke-width="0.5" />
<text x="460.45" y="383.60" font-size="5" fill="#333" stroke="#333" stroke-width="0.157" text-anchor="middle" >0.025</text>
<line x1="486.40" y1="376.80" x2="486.40" y2="378.40" stroke="#666" stroke-width="0.5" />
<text x="486.40" y="383.60" font-size="5" fill="#333" stroke="#333" stroke-width="0.157" text-anchor="middle" >0.030</text>
<line x1="512.35" y1="376.80" x2="512.35" y2="378.40" stroke="#666" stroke-width="0.5" />
<text x="512.35" y="383.60" font-size="5" fill="#333" stroke="#333" stroke-width="0.157" text-anchor="middle" >0.035</text>
<line x1="538.30" y1="376.80" x2="538.30" y2="378.40" stroke="#666" stroke-width="0.5" />
<text x="538.30" y="383.60" font-size="5" fill="#333" stroke="#333" stroke-width="0.157" text-anchor="middle" >0.040</text>
<text x="410.90" y="391.00" font-size="6" fill="#222" stroke="#222" stroke-width="0.189" text-anchor="start" >mean(|SHAP value|)</text>
<line x1="329.40" y1="409.55" x2="539.20" y2="409.55" stroke="#f0f0f0" stroke-width="0.7" />
<line x1="329.40" y1="425.45" x2="539.20" y2="425.45" stroke="#f0f0f0" stroke-width="0.7" />
<line x1="329.40" y1="441.35" x2="539.20" y2="441.35" stroke="#f0f0f0" stroke-width="0.7" />
<line x1="329.40" y1="457.25" x2="539.20" y2="457.25" stroke="#f0f0f0" stroke-width="0.7" />
<line x1="329.40" y1="473.15" x2="539.20" y2="473.15" stroke="#f0f0f0" stroke-width="0.7" />
<line x1="329.40" y1="489.05" x2="539.20" y2="489.05" stroke="#f0f0f0" stroke-width="0.7" />
<line x1="329.40" y1="504.95" x2="539.20" y2="504.95" stroke="#f0f0f0" stroke-width="0.7" />
<line x1="329.40" y1="520.85" x2="539.20" y2="520.85" stroke="#f0f0f0" stroke-width="0.7" />
<line x1="329.40" y1="536.75" x2="539.20" y2="536.75" stroke="#f0f0f0" stroke-width="0.7" />
<line x1="329.40" y1="552.65" x2="539.20" y2="552.65" stroke="#f0f0f0" stroke-width="0.7" />
<rect x="329.20" y="404.20" width="190.80" height="10.70" fill="#ff0051" />
<text x="522.30" y="411.15" font-size="5.7" fill="#ff0051" stroke="#ff0051" stroke-width="0.060" text-anchor="start" >+0.05</text>
<text x="326.10" y="411.85" font-size="6.15" fill="#a0a0a0" stroke="#a0a0a0" stroke-width="0.050" text-anchor="end" >0.835 = NDVI</text>
<text x="326.10" y="411.85" font-size="6.15" fill="#0a0a0a" stroke="#0a0a0a" stroke-width="0.080" text-anchor="end" >NDVI</text>
<rect x="329.20" y="420.10" width="67.70" height="10.70" fill="#ff0051" />
<text x="399.20" y="427.05" font-size="5.7" fill="#ff0051" stroke="#ff0051" stroke-width="0.060" text-anchor="start" >+0.02</text>
<text x="326.10" y="427.75" font-size="6.15" fill="#a0a0a0" stroke="#a0a0a0" stroke-width="0.050" text-anchor="end" >1896.48 = SST</text>
<text x="326.10" y="427.75" font-size="6.15" fill="#0a0a0a" stroke="#0a0a0a" stroke-width="0.080" text-anchor="end" >SST</text>
<rect x="329.20" y="436.00" width="32.10" height="10.70" fill="#ff0051" />
<text x="363.60" y="442.95" font-size="5.7" fill="#ff0051" stroke="#ff0051" stroke-width="0.060" text-anchor="start" >+0.01</text>
<text x="326.10" y="443.65" font-size="6.15" fill="#a0a0a0" stroke="#a0a0a0" stroke-width="0.050" text-anchor="end" >1159.557 = Pre</text>
<text x="326.10" y="443.65" font-size="6.15" fill="#0a0a0a" stroke="#0a0a0a" stroke-width="0.080" text-anchor="end" >Pre</text>
<rect x="329.20" y="451.90" width="31.90" height="10.70" fill="#ff0051" />
<text x="363.40" y="458.85" font-size="5.7" fill="#ff0051" stroke="#ff0051" stroke-width="0.060" text-anchor="start" >+0.01</text>
<text x="326.10" y="459.55" font-size="6.15" fill="#a0a0a0" stroke="#a0a0a0" stroke-width="0.050" text-anchor="end" >0.539 = Forests</text>
<text x="326.10" y="459.55" font-size="6.15" fill="#0a0a0a" stroke="#0a0a0a" stroke-width="0.080" text-anchor="end" >Forests</text>
<rect x="329.20" y="467.80" width="31.30" height="10.70" fill="#ff0051" />
<text x="362.80" y="474.75" font-size="5.7" fill="#ff0051" stroke="#ff0051" stroke-width="0.060" text-anchor="start" >+0.01</text>
<text x="326.10" y="475.45" font-size="6.15" fill="#a0a0a0" stroke="#a0a0a0" stroke-width="0.050" text-anchor="end" >18.919 = Slope</text>
<text x="326.10" y="475.45" font-size="6.15" fill="#0a0a0a" stroke="#0a0a0a" stroke-width="0.080" text-anchor="end" >Slope</text>
<rect x="329.20" y="483.70" width="30.90" height="10.70" fill="#ff0051" />
<text x="362.40" y="490.65" font-size="5.7" fill="#ff0051" stroke="#ff0051" stroke-width="0.060" text-anchor="start" >+0.01</text>
<text x="326.10" y="491.35" font-size="6.15" fill="#a0a0a0" stroke="#a0a0a0" stroke-width="0.050" text-anchor="end" >74.903 = Hum</text>
<text x="326.10" y="491.35" font-size="6.15" fill="#0a0a0a" stroke="#0a0a0a" stroke-width="0.080" text-anchor="end" >Hum</text>
<rect x="329.20" y="499.60" width="27.60" height="10.70" fill="#ff0051" />
<text x="359.10" y="506.55" font-size="5.7" fill="#ff0051" stroke="#ff0051" stroke-width="0.060" text-anchor="start" >+0.01</text>
<text x="326.10" y="507.25" font-size="6.15" fill="#a0a0a0" stroke="#a0a0a0" stroke-width="0.050" text-anchor="end" >17.092 = Tem</text>
<text x="326.10" y="507.25" font-size="6.15" fill="#0a0a0a" stroke="#0a0a0a" stroke-width="0.080" text-anchor="end" >Tem</text>
<rect x="329.20" y="515.50" width="19.10" height="10.70" fill="#ff0051" />
<text x="350.60" y="522.45" font-size="5.7" fill="#ff0051" stroke="#ff0051" stroke-width="0.060" text-anchor="start" >+0.01</text>
<text x="326.10" y="523.15" font-size="6.15" fill="#a0a0a0" stroke="#a0a0a0" stroke-width="0.050" text-anchor="end" >1467.638 = Elevation</text>
<text x="326.10" y="523.15" font-size="6.15" fill="#0a0a0a" stroke="#0a0a0a" stroke-width="0.080" text-anchor="end" >Elevation</text>
<rect x="329.20" y="531.40" width="12.00" height="10.70" fill="#ff0051" />
<text x="343.50" y="538.35" font-size="5.7" fill="#ff0051" stroke="#ff0051" stroke-width="0.060" text-anchor="start" >+0</text>
<text x="326.10" y="539.05" font-size="6.15" fill="#a0a0a0" stroke="#a0a0a0" stroke-width="0.050" text-anchor="end" >0.191 = Agriculture</text>
<text x="326.10" y="539.05" font-size="6.15" fill="#0a0a0a" stroke="#0a0a0a" stroke-width="0.080" text-anchor="end" >Agriculture</text>
<rect x="329.20" y="547.30" width="21.10" height="10.70" fill="#ff0051" />
<text x="352.60" y="554.25" font-size="5.7" fill="#ff0051" stroke="#ff0051" stroke-width="0.060" text-anchor="start" >+0.01</text>
<text x="326.10" y="554.95" font-size="6.15" fill="#0a0a0a" stroke="#0a0a0a" stroke-width="0.080" text-anchor="end" >Sum of 3 other features</text>
<line x1="329.40" y1="396.60" x2="329.40" y2="565.70" stroke="#7a7a7a" stroke-width="0.85" />
<line x1="329.40" y1="565.70" x2="539.20" y2="565.70" stroke="#666" stroke-width="0.8" />
<line x1="329.40" y1="565.70" x2="329.40" y2="567.30" stroke="#666" stroke-width="0.5" />
<text x="329.40" y="572.50" font-size="5" fill="#333" stroke="#333" stroke-width="0.157" text-anchor="middle" >0.00</text>
<line x1="366.20" y1="565.70" x2="366.20" y2="567.30" stroke="#666" stroke-width="0.5" />
<text x="366.20" y="572.50" font-size="5" fill="#333" stroke="#333" stroke-width="0.157" text-anchor="middle" >0.01</text>
<line x1="403.00" y1="565.70" x2="403.00" y2="567.30" stroke="#666" stroke-width="0.5" />
<text x="403.00" y="572.50" font-size="5" fill="#333" stroke="#333" stroke-width="0.157" text-anchor="middle" >0.02</text>
<line x1="439.80" y1="565.70" x2="439.80" y2="567.30" stroke="#666" stroke-width="0.5" />
<text x="439.80" y="572.50" font-size="5" fill="#333" stroke="#333" stroke-width="0.157" text-anchor="middle" >0.03</text>
<line x1="476.60" y1="565.70" x2="476.60" y2="567.30" stroke="#666" stroke-width="0.5" />
<text x="476.60" y="572.50" font-size="5" fill="#333" stroke="#333" stroke-width="0.157" text-anchor="middle" >0.04</text>
<line x1="513.40" y1="565.70" x2="513.40" y2="567.30" stroke="#666" stroke-width="0.5" />
<text x="513.40" y="572.50" font-size="5" fill="#333" stroke="#333" stroke-width="0.157" text-anchor="middle" >0.05</text>
<text x="409.40" y="579.90" font-size="6" fill="#222" stroke="#222" stroke-width="0.189" text-anchor="start" >mean(|SHAP value|)</text>
</g>
</svg></body></html>
